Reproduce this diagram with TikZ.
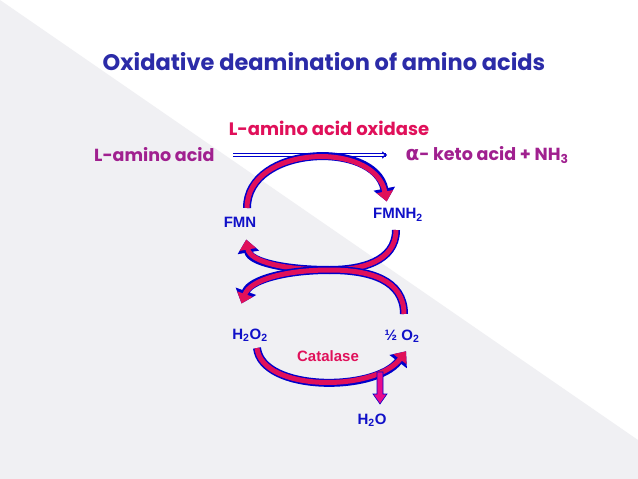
\documentclass[tikz,border=0pt]{standalone}
\usepackage{fontspec}
\setmainfont{Liberation Sans}
\newfontfamily\gothic{Poppins}
\newfontfamily\dejavu{DejaVu Sans}
\usetikzlibrary{arrows.meta}
\definecolor{ttl}{HTML}{2B2BA8}
\definecolor{pur}{HTML}{A0208F}
\definecolor{crim}{HTML}{E0105A}
\definecolor{lbl}{HTML}{1010C8}
\definecolor{bg}{HTML}{F0F0F3}
\tikzset{
 lab/.style={font=\bfseries\fontsize{15}{16}\selectfont, text=lbl},
 chem/.style={font=\gothic\bfseries\fontsize{17.5}{18}\selectfont, text=pur},
 fat/.style={preaction={draw=blue!80!black,line width=8pt,-{Triangle[length=13pt,width=21pt]}},
   draw=crim,line width=5pt,-{Triangle[length=10pt,width=16pt]}, shorten >=1.6pt},
}
\begin{document}
\begin{tikzpicture}[x=1pt,y=-1pt]
\useasboundingbox (0,0) rectangle (638,479);
\fill[white] (0,0) rectangle (638,479);
\fill[bg] (0,0) -- (638,440) -- (638,479) -- (0,479) -- cycle;
\node[font=\gothic\bfseries\fontsize{22.5}{24}\selectfont, text=ttl] (title) at (324,62) {Oxidative deamination of amino acids};
\node[font=\gothic\bfseries\fontsize{18}{19}\selectfont, text=crim] (enz) at (329,128) {L-amino acid oxidase};
\node[chem, anchor=east] (aa) at (218,155) {L-amino acid};
\node[chem, anchor=west] (ka) at (402,155) {{\dejavu\fontsize{20}{20}\selectfont\bfseries α}- keto acid + NH\textsubscript{3}};
\draw[blue!80!black, double=white, double distance=1.2pt, line width=1.1pt, -{To[length=5pt,width=7pt]}] (233,155) coordinate (a1) -- (387,155) coordinate (a2);
\node[lab] (fmn) at (240,222) {FMN};
\node[lab] (fmnh) at (398,215) {FMNH\textsubscript{2}};
\node[lab] (hoo) at (250,335) {H\textsubscript{2}O\textsubscript{2}};
\node[lab] (oo) at (402,336) {½ O\textsubscript{2}};
\node[font=\bfseries\fontsize{15}{16}\selectfont, text=crim] (cat) at (328,356) {Catalase};
\node[lab] (h2o) at (372,420) {H\textsubscript{2}O};
\coordinate (m) at (330,270);
% top loop
\draw[fat] (247,208) .. controls (247,145) and (375,140) .. (387,203);
\draw[fat] (396,230) .. controls (396,262) and (360,270) .. (m) .. controls (285,270) and (250,262) .. (246,238);
% lower loop
\draw[fat] (404,314) .. controls (404,280) and (370,270) .. (m) .. controls (285,270) and (250,280) .. (241,305);
% bottom arc
\draw[fat] (257,348) .. controls (262,392) and (375,392) .. (407,350);
\draw[draw=blue!80!black, fill=crim!70!magenta, line width=0.6pt] (377,372) -- (383,372) -- (383,394) -- (387,394) -- (380,404) -- (373,394) -- (377,394) -- cycle;
\end{tikzpicture}
\end{document}
